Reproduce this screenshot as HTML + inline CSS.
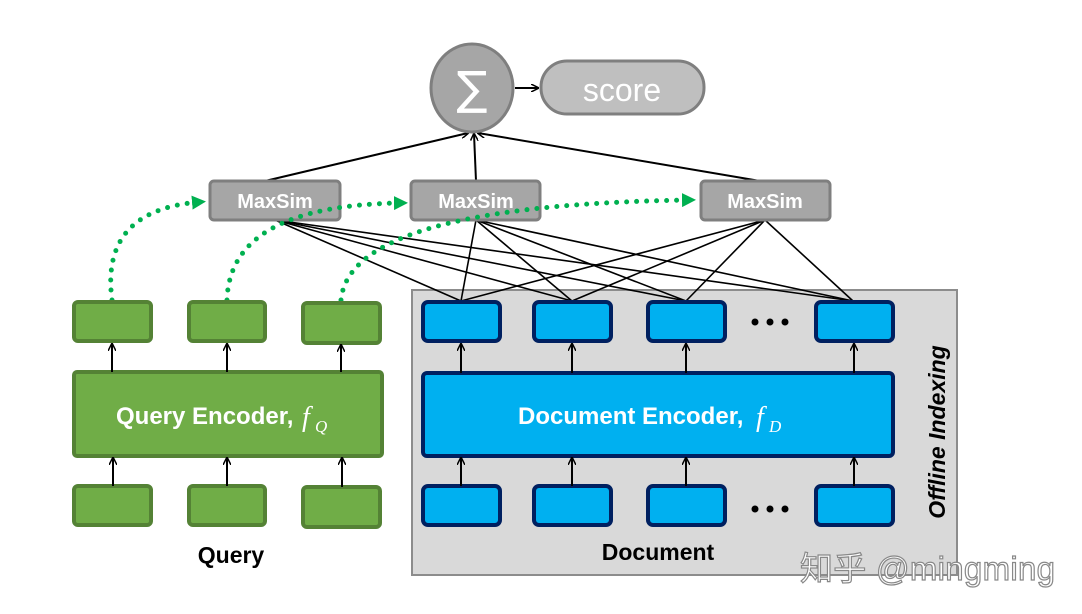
<!DOCTYPE html>
<html><head><meta charset="utf-8"><style>body{margin:0;background:#fff}svg{display:block}</style></head><body>
<svg width="1082" height="614" viewBox="0 0 1082 614" xmlns="http://www.w3.org/2000/svg" font-family="Liberation Sans, DejaVu Sans, sans-serif">
<defs>
<marker id="a" markerWidth="8" markerHeight="8" refX="7" refY="4" orient="auto" markerUnits="userSpaceOnUse"><path d="M0,0 L8,4 L0,8" fill="none" stroke="#000" stroke-width="1.5"/></marker>
<marker id="g" markerWidth="14" markerHeight="14" refX="8" refY="7" orient="auto" markerUnits="userSpaceOnUse"><path d="M0,0 L14,7 L0,14 Z" fill="#00b050"/></marker>
</defs>
<rect x="412" y="290" width="545" height="285" fill="#d9d9d9" stroke="#8c8c8c" stroke-width="2"/>
<g stroke="#000" stroke-width="2" fill="none">
<line x1="265" y1="181" x2="468" y2="133" marker-end="url(#a)"/>
<line x1="476" y1="181" x2="474" y2="134" marker-end="url(#a)"/>
<line x1="760" y1="181" x2="478" y2="133" marker-end="url(#a)"/>
<line x1="515" y1="88" x2="538" y2="88" marker-end="url(#a)"/>
</g>
<g stroke="#000" stroke-width="1.6">
<line x1="461" y1="301" x2="275" y2="220"/><line x1="572" y1="301" x2="275" y2="220"/><line x1="686" y1="301" x2="275" y2="220"/><line x1="853" y1="301" x2="275" y2="220"/>
<line x1="461" y1="301" x2="476" y2="220"/><line x1="572" y1="301" x2="476" y2="220"/><line x1="686" y1="301" x2="476" y2="220"/><line x1="853" y1="301" x2="476" y2="220"/>
<line x1="461" y1="301" x2="765" y2="220"/><line x1="572" y1="301" x2="765" y2="220"/><line x1="686" y1="301" x2="765" y2="220"/><line x1="853" y1="301" x2="765" y2="220"/>
</g>
<ellipse cx="472" cy="88" rx="41" ry="44" fill="#a6a6a6" stroke="#7f7f7f" stroke-width="3"/>
<text x="472" y="104" font-size="46" fill="#fff" text-anchor="middle" font-family="DejaVu Sans, sans-serif">∑</text>
<rect x="541" y="61" width="163" height="53" rx="26" fill="#bfbfbf" stroke="#7f7f7f" stroke-width="3"/>
<text x="622" y="101" font-size="32" fill="#fff" text-anchor="middle">score</text>
<g fill="#a6a6a6" stroke="#7f7f7f" stroke-width="3">
<rect x="210" y="181" width="130" height="39" rx="4"/><rect x="411" y="181" width="129" height="39" rx="4"/><rect x="701" y="181" width="129" height="39" rx="4"/>
</g>
<g font-size="20" font-weight="bold" fill="#fff" text-anchor="middle">
<text x="275" y="208">MaxSim</text><text x="476" y="208">MaxSim</text><text x="765" y="208">MaxSim</text>
</g>
<g stroke="#00b050" stroke-width="5" stroke-linecap="round" stroke-dasharray="0 10" fill="none">
<path d="M112,300 Q100,210 200,202" marker-end="url(#g)"/>
<path d="M227,300 Q230,205 402,203" marker-end="url(#g)"/>
<path d="M341,300 Q350,205 690,200" marker-end="url(#g)"/>
</g>
<g fill="#70ad47" stroke="#548235" stroke-width="4">
<rect x="74" y="302" width="77" height="39" rx="4"/><rect x="189" y="302" width="76" height="39" rx="4"/><rect x="303" y="303" width="77" height="40" rx="4"/>
<rect x="74" y="372" width="308" height="84" rx="3"/>
<rect x="74" y="486" width="77" height="39" rx="4"/><rect x="189" y="486" width="76" height="39" rx="4"/><rect x="303" y="487" width="77" height="40" rx="4"/>
</g>
<g stroke="#000" stroke-width="2">
<line x1="112" y1="372" x2="112" y2="344" marker-end="url(#a)"/><line x1="227" y1="372" x2="227" y2="344" marker-end="url(#a)"/><line x1="341" y1="372" x2="341" y2="345" marker-end="url(#a)"/>
<line x1="113" y1="486" x2="113" y2="458" marker-end="url(#a)"/><line x1="227" y1="486" x2="227" y2="458" marker-end="url(#a)"/><line x1="342" y1="487" x2="342" y2="458" marker-end="url(#a)"/>
</g>
<text x="116" y="424" font-size="24" font-weight="bold" fill="#fff">Query Encoder,</text>
<text x="302" y="426" font-size="28" font-style="italic" fill="#fff" font-family="Liberation Serif, serif">f</text>
<text x="315" y="432" font-size="17" font-style="italic" fill="#fff" font-family="Liberation Serif, serif">Q</text>
<text x="231" y="563" font-size="23" font-weight="bold" text-anchor="middle">Query</text>
<g fill="#00b0f0" stroke="#002060" stroke-width="4">
<rect x="423" y="302" width="77" height="39" rx="5"/><rect x="534" y="302" width="77" height="39" rx="5"/><rect x="648" y="302" width="77" height="39" rx="5"/><rect x="816" y="302" width="77" height="39" rx="5"/>
<rect x="423" y="373" width="470" height="83" rx="4"/>
<rect x="423" y="486" width="77" height="39" rx="5"/><rect x="534" y="486" width="77" height="39" rx="5"/><rect x="648" y="486" width="77" height="39" rx="5"/><rect x="816" y="486" width="77" height="39" rx="5"/>
</g>
<g stroke="#000" stroke-width="2">
<line x1="461" y1="373" x2="461" y2="344" marker-end="url(#a)"/><line x1="572" y1="373" x2="572" y2="344" marker-end="url(#a)"/><line x1="686" y1="373" x2="686" y2="344" marker-end="url(#a)"/><line x1="854" y1="373" x2="854" y2="344" marker-end="url(#a)"/>
<line x1="461" y1="486" x2="461" y2="458" marker-end="url(#a)"/><line x1="572" y1="486" x2="572" y2="458" marker-end="url(#a)"/><line x1="686" y1="486" x2="686" y2="458" marker-end="url(#a)"/><line x1="854" y1="486" x2="854" y2="458" marker-end="url(#a)"/>
</g>
<g fill="#000"><circle cx="755" cy="322" r="3.5"/><circle cx="770" cy="322" r="3.5"/><circle cx="785" cy="322" r="3.5"/>
<circle cx="755" cy="509" r="3.5"/><circle cx="770" cy="509" r="3.5"/><circle cx="785" cy="509" r="3.5"/></g>
<text x="518" y="424" font-size="24" font-weight="bold" fill="#fff">Document Encoder,</text>
<text x="756" y="426" font-size="28" font-style="italic" fill="#fff" font-family="Liberation Serif, serif">f</text>
<text x="769" y="432" font-size="17" font-style="italic" fill="#fff" font-family="Liberation Serif, serif">D</text>
<text x="658" y="560" font-size="23" font-weight="bold" text-anchor="middle">Document</text>
<text transform="translate(945,432) rotate(-90)" font-size="23" font-weight="bold" font-style="italic" text-anchor="middle">Offline Indexing</text>
<text x="800" y="580" font-size="33" fill="#fff" stroke="#888" stroke-width="1.2" textLength="255" font-family="Liberation Sans, Noto Sans CJK SC, sans-serif">知乎 @mingming</text>
</svg>
</body></html>
